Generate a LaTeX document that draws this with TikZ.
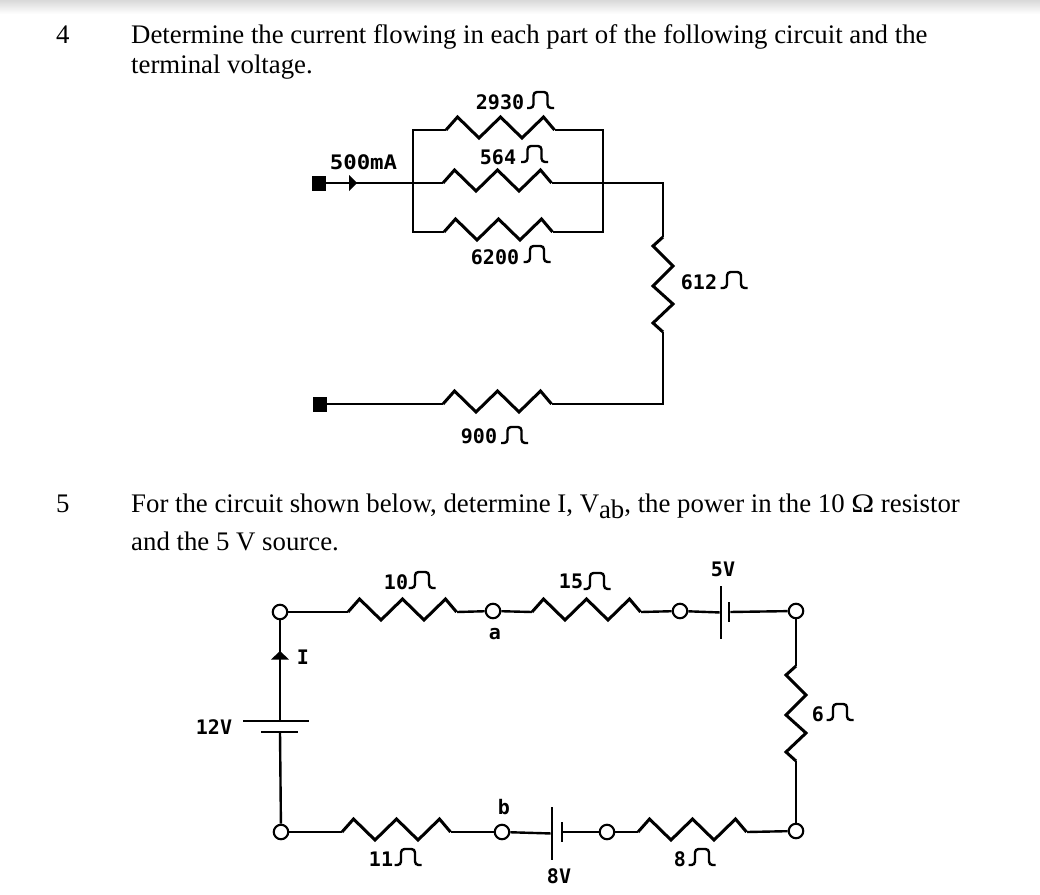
\documentclass[tikz,border=0pt]{standalone}
\usepackage{fontspec}
\setmainfont{Liberation Serif}
\newfontfamily\lblfont{DejaVu Sans Mono}[BoldFont={DejaVu Sans Mono Bold}]
\begin{document}
\begin{tikzpicture}[x=1pt,y=-1pt,
  wire/.style={line width=2.4pt,line join=miter,line cap=butt},
  zig/.style={line width=3pt,line join=miter},
  body/.style={anchor=base west,inner sep=0pt,font=\fontsize{26.8}{30}\selectfont},
  lbl/.style={inner sep=0pt,font=\lblfont\bfseries\fontsize{20}{22}\selectfont},
  term/.style={circle,draw,fill=white,line width=2.1pt,minimum size=14.5pt,inner sep=0pt},
  src/.style={rectangle,fill=black,minimum width=14pt,minimum height=15pt,inner sep=0pt},
  plate/.style={rectangle,fill=black,inner sep=0pt},
  ohm/.pic={\draw[line width=2.4pt,rounded corners=3.5pt] (-13.5,0)--(-7,0)--(-7,-16)--(7,-16)--(7,0)--(13.5,0);},
  hres/.style={insert path={-- ++(11.5,-13) -- ++(21.5,21) -- ++(21.5,-21) -- ++(21.5,21) -- ++(21.5,-21) -- ++(11,13)}},
  vres/.style={insert path={-- ++(-10,9) -- ++(20,20) -- ++(-20,20) -- ++(20,18) -- ++(-20,19) -- ++(10,9)}}]
\useasboundingbox (0,0) rectangle (1040,894);
\fill[white] (0,0) rectangle (1040,894);
\shade[top color=black!15,bottom color=white] (0,0) rectangle (1040,14);
% texts
\node[body] (n4) at (56,43) {4};
\node[body] (n5) at (56,512) {5};
\node[body] (t1) at (131,43) {Determine the current flowing in each part of the following circuit and the};
\node[body] (t2) at (131,73) {terminal voltage.};
\node[body] (t3) at (131,512) {For the circuit shown below, determine I, V\raisebox{-6pt}{ab}, the power in the 10 \scalebox{1.15}[1]{Ω} resistor};
\node[body] (t4) at (131,550) {and the 5 V source.};
% circuit 1
\node[src] (srcA) at (319,183) {};
\node[src] (srcB) at (320,404) {};
\coordinate (jl) at (413,183);
\coordinate (jr) at (603,183);
\coordinate (tl) at (413,130);
\coordinate (tr) at (603,130);
\coordinate (bl) at (413,232);
\coordinate (br) at (603,232);
\coordinate (c1) at (663,183);
\coordinate (c2) at (663,404);
\coordinate (r1a) at (446,130);
\coordinate (r1b) at (555,130);
\coordinate (r2a) at (443,183);
\coordinate (r2b) at (552,183);
\coordinate (r3a) at (444,232);
\coordinate (r3b) at (553,232);
\coordinate (r4a) at (663,237);
\coordinate (r4b) at (663,332);
\coordinate (r5a) at (443,404);
\coordinate (r5b) at (552,404);
\draw[wire] (r1a) -- (tl) -- (bl) -- (r3a);
\draw[wire] (r1b) -- (tr) -- (br) -- (r3b);
\draw[wire] (srcA) -- (r2a);
\draw[wire] (r2b) -- (c1) -- (r4a);
\draw[wire] (r4b) -- (c2) -- (r5b);
\draw[wire] (r5a) -- (srcB);
\draw[zig] (r1a) [hres];
\draw[zig] (r2a) [hres];
\draw[zig] (r3a) [hres];
\draw[zig] (r5a) [hres];
\draw[zig] (r4a) [vres];
\fill (357,183) -- (349,175) -- (349,191) -- cycle;
\node[lbl] (l500) at (363.5,162) {\scalebox{1.12}[1]{500mA}};
\node[lbl] (l2930) at (500,102) {2930};
\pic at (540.5,108) {ohm};
\node[lbl] (l564) at (498,157) {564};
\pic at (534.5,162) {ohm};
\node[lbl] (l6200) at (495,257) {6200};
\pic at (537,262) {ohm};
\node[lbl] (l612) at (699,282) {612};
\pic at (734,288) {ohm};
\node[lbl] (l900) at (479,436) {900};
\pic at (514.5,443) {ohm};
% circuit 2
\node[term] (tTL) at (280,612) {};
\node[term] (ta) at (493,611) {};
\node[term] (tm) at (680,611) {};
\node[term] (tTR) at (796,611) {};
\node[term] (tBL) at (281,832) {};
\node[term] (tb) at (502,832) {};
\node[term] (tn) at (607,832) {};
\node[term] (tBR) at (796,831) {};
\node[plate,minimum width=2.5pt,minimum height=53pt] (b5a) at (721,612.5) {};
\node[plate,minimum width=2.5pt,minimum height=20pt] (b5b) at (729,612) {};
\node[plate,minimum width=2.5pt,minimum height=53pt] (b8a) at (552,833.5) {};
\node[plate,minimum width=2.5pt,minimum height=20pt] (b8b) at (562,832) {};
\node[plate,minimum width=66pt,minimum height=2.5pt] (b12a) at (276,721) {};
\node[plate,minimum width=37pt,minimum height=2.5pt] (b12b) at (279,732) {};
\coordinate (ra) at (348,612);
\coordinate (rab) at (457,612);
\coordinate (rb) at (532,612);
\coordinate (rbb) at (641,612);
\coordinate (rc) at (796,666);
\coordinate (rcb) at (796,761);
\coordinate (rd) at (638,832);
\coordinate (rdb) at (747,832);
\coordinate (re) at (342,832);
\coordinate (reb) at (451,832);
\coordinate (wt) at (280,721);
\coordinate (wb) at (280,732);
\draw[wire] (tTL) -- (ra);
\draw[wire] (rab) -- (ta);
\draw[wire] (ta) -- (rb);
\draw[wire] (rbb) -- (tm);
\draw[wire] (tm) -- (b5a);
\draw[wire] (b5b) -- (tTR);
\draw[wire] (tTR) -- (rc);
\draw[wire] (rcb) -- (tBR);
\draw[wire] (tBR) -- (rdb);
\draw[wire] (rd) -- (tn);
\draw[wire] (tn) -- (b8b);
\draw[wire] (b8a) -- (tb);
\draw[wire] (tb) -- (reb);
\draw[wire] (re) -- (tBL);
\draw[wire] (tBL) -- (wb);
\draw[wire] (wt) -- (tTL);
\draw[zig] (ra) [hres];
\draw[zig] (rb) [hres];
\draw[zig] (rd) [hres];
\draw[zig] (re) [hres];
\draw[zig] (rc) [vres];
\fill (280,651) -- (271,659.5) -- (289,659.5) -- cycle;
\node[lbl] (lI) at (303,657) {I};
\node[lbl] (l12) at (214,727) {12V};
\node[lbl] (l10) at (396,582) {10};
\pic at (422,588) {ohm};
\node[lbl] (la) at (495,634) {a};
\node[lbl] (l15) at (571,581) {15};
\pic at (597,589) {ohm};
\node[lbl] (l5) at (723,569) {5V};
\node[lbl] (l6) at (818,714) {6};
\pic at (840,720) {ohm};
\node[lbl] (lb) at (504,807) {b};
\node[lbl] (l8V) at (559,876) {8V};
\node[lbl] (l8) at (680,859) {8};
\pic at (702,865) {ohm};
\node[lbl] (l11) at (381,859) {11};
\pic at (408,865) {ohm};
\end{tikzpicture}
\end{document}
